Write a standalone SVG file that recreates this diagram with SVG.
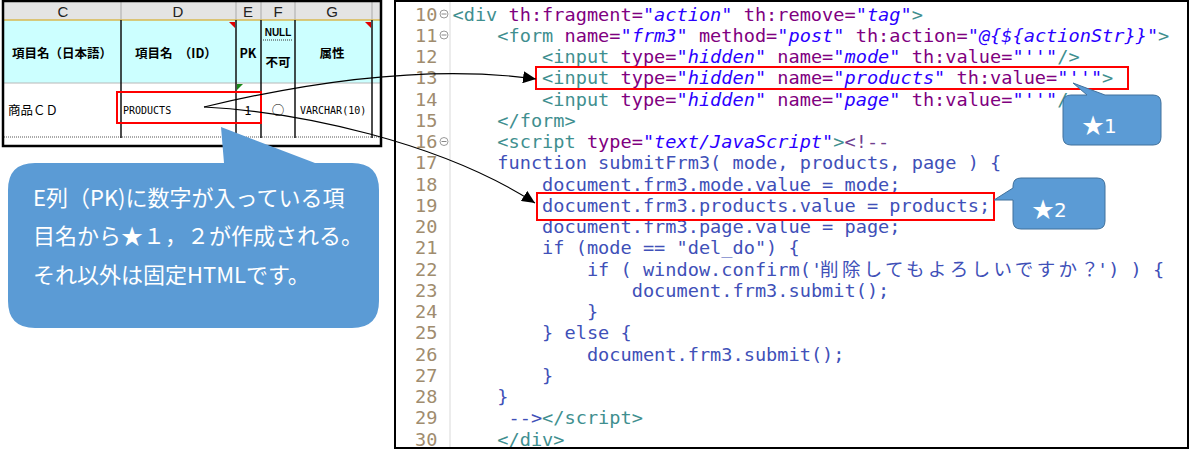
<svg xmlns="http://www.w3.org/2000/svg" width="1191" height="450" viewBox="0 0 1191 450">
<defs>
<style>
.hdr{font-family:"Liberation Sans",Arial,sans-serif;font-size:15px;fill:#222;text-anchor:middle}
.jb{font-family:"Noto Sans CJK JP",sans-serif;font-size:12.5px;font-weight:bold;fill:#000}
.jn{font-family:"Noto Sans CJK JP",sans-serif;font-size:12.5px;fill:#000}
.sm{font-family:"DejaVu Sans Mono",monospace;font-size:10px;fill:#000}
.code{font-family:"DejaVu Sans Mono","Noto Sans CJK JP",monospace;font-size:18px}
.ln{fill:#a08c6e}
.t{fill:#3f8f8f}
.a{fill:#7f007f}
.v{fill:#2a00ff;font-style:italic}
.j{fill:#4050b8}
.c{fill:#6f3f8f}
.col{stroke:#111;stroke-width:1.5}
.hl{fill:none;stroke:#ff0000;stroke-width:2}
.callout{fill:#5b9bd5}
.ctext{font-family:"Noto Sans CJK JP",sans-serif;font-size:22px;fill:#fff}
.fold{fill:#fff;stroke:#999;stroke-width:1}
.conn{fill:none;stroke:#000;stroke-width:1.2}
</style>
<marker id="ah" markerUnits="userSpaceOnUse" markerWidth="13" markerHeight="12" refX="13" refY="6" orient="auto">
<path d="M0,0 L13,6 L0,12 Z" fill="#000"/>
</marker>
</defs>
<rect width="1191" height="450" fill="#fff"/>

<g id="spreadsheet">
<rect x="3" y="1" width="378" height="145" fill="#fff"/>
<rect x="4" y="2" width="376" height="18" fill="#e4e4e4"/>
<g stroke="#aaa" stroke-width="1">
<line x1="121" y1="2" x2="121" y2="20"/><line x1="236" y1="2" x2="236" y2="20"/><line x1="261" y1="2" x2="261" y2="20"/><line x1="295" y1="2" x2="295" y2="20"/><line x1="372" y1="2" x2="372" y2="20"/>
</g>
<text class="hdr" x="63" y="17">C</text><text class="hdr" x="178" y="17">D</text><text class="hdr" x="248" y="17">E</text><text class="hdr" x="278" y="17">F</text><text class="hdr" x="332" y="17">G</text>
<rect x="4" y="20" width="376" height="63" fill="#ccffff"/>
<line x1="4" y1="20" x2="380" y2="20" stroke="#d8b850" stroke-width="1.5"/>
<line x1="4" y1="83" x2="380" y2="83" stroke="#b8b8b8" stroke-width="1"/>
<line x1="4" y1="137" x2="380" y2="137" stroke="#555" stroke-width="1" stroke-dasharray="1,1"/>
<g class="col">
<line x1="121" y1="20" x2="121" y2="138"/><line x1="236" y1="20" x2="236" y2="138"/><line x1="261" y1="20" x2="261" y2="138"/><line x1="295" y1="20" x2="295" y2="138"/><line x1="372" y1="20" x2="372" y2="138"/>
</g>
<polygon points="229,22 235,22 235,28" fill="#e00000"/>
<polygon points="365,22 371,22 371,28" fill="#e00000"/>
<polygon points="237,84 243,84 237,90" fill="#1a8a1a"/>
<text class="jb" x="62" y="58" text-anchor="middle">項目名（日本語）</text>
<text class="jb" x="135" y="58">項目名　（ID）</text>
<text class="jb" x="248" y="58" text-anchor="middle">PK</text>
<text x="278" y="36" text-anchor="middle" style="font-family:'Liberation Sans',Arial,sans-serif;font-size:10px;font-weight:bold">NULL</text>
<line x1="263" y1="40" x2="293" y2="40" stroke="#333" stroke-width="1" stroke-dasharray="1,1"/>
<text class="jb" x="278" y="67" text-anchor="middle">不可</text>
<text class="jb" x="332" y="58" text-anchor="middle">属性</text>
<text class="jn" x="8" y="115">商品ＣＤ</text>
<text class="sm" x="123" y="114">PRODUCTS</text>
<text class="jn" x="248" y="115" text-anchor="middle">1</text>
<text class="jn" x="278" y="115" text-anchor="middle">○</text>
<text class="sm" x="300" y="114">VARCHAR(10)</text>
<rect x="3" y="1" width="378" height="145" fill="none" stroke="#000" stroke-width="2.5"/>
</g>

<g id="code-panel">
<rect x="395" y="1" width="793" height="447" fill="#fff"/>
<line x1="450" y1="2" x2="450" y2="447" stroke="#e6e6e6" stroke-width="1.5"/>
<g class="code ln">
<text x="415" y="20.7" textLength="22.4" lengthAdjust="spacingAndGlyphs">10</text>
<text x="415" y="41.95" textLength="22.4" lengthAdjust="spacingAndGlyphs">11</text>
<text x="415" y="63.2" textLength="22.4" lengthAdjust="spacingAndGlyphs">12</text>
<text x="415" y="84.45" textLength="22.4" lengthAdjust="spacingAndGlyphs">13</text>
<text x="415" y="105.7" textLength="22.4" lengthAdjust="spacingAndGlyphs">14</text>
<text x="415" y="126.95" textLength="22.4" lengthAdjust="spacingAndGlyphs">15</text>
<text x="415" y="148.2" textLength="22.4" lengthAdjust="spacingAndGlyphs">16</text>
<text x="415" y="169.45" textLength="22.4" lengthAdjust="spacingAndGlyphs">17</text>
<text x="415" y="190.7" textLength="22.4" lengthAdjust="spacingAndGlyphs">18</text>
<text x="415" y="211.95" textLength="22.4" lengthAdjust="spacingAndGlyphs">19</text>
<text x="415" y="233.2" textLength="22.4" lengthAdjust="spacingAndGlyphs">20</text>
<text x="415" y="254.45" textLength="22.4" lengthAdjust="spacingAndGlyphs">21</text>
<text x="415" y="275.7" textLength="22.4" lengthAdjust="spacingAndGlyphs">22</text>
<text x="415" y="296.95" textLength="22.4" lengthAdjust="spacingAndGlyphs">23</text>
<text x="415" y="318.2" textLength="22.4" lengthAdjust="spacingAndGlyphs">24</text>
<text x="415" y="339.45" textLength="22.4" lengthAdjust="spacingAndGlyphs">25</text>
<text x="415" y="360.7" textLength="22.4" lengthAdjust="spacingAndGlyphs">26</text>
<text x="415" y="381.95" textLength="22.4" lengthAdjust="spacingAndGlyphs">27</text>
<text x="415" y="403.2" textLength="22.4" lengthAdjust="spacingAndGlyphs">28</text>
<text x="415" y="424.45" textLength="22.4" lengthAdjust="spacingAndGlyphs">29</text>
<text x="415" y="445.7" textLength="22.4" lengthAdjust="spacingAndGlyphs">30</text>
</g>
<g>
<circle class="fold" cx="444" cy="14" r="4"/><line x1="441.5" y1="14" x2="446.5" y2="14" stroke="#888"/>
<circle class="fold" cx="444" cy="35" r="4"/><line x1="441.5" y1="35" x2="446.5" y2="35" stroke="#888"/>
<circle class="fold" cx="444" cy="141.5" r="4"/><line x1="441.5" y1="141.5" x2="446.5" y2="141.5" stroke="#888"/>
</g>
<g class="code">
<text x="452.5" y="20.7" textLength="470.4" lengthAdjust="spacingAndGlyphs"><tspan class="t">&lt;div</tspan><tspan class="a"> th:fragment=</tspan><tspan class="v">"action"</tspan><tspan class="a"> th:remove=</tspan><tspan class="v">"tag"</tspan><tspan class="t">&gt;</tspan></text>
<text x="497.3" y="41.95" textLength="672" lengthAdjust="spacingAndGlyphs"><tspan class="t">&lt;form</tspan><tspan class="a"> name=</tspan><tspan class="v">"frm3"</tspan><tspan class="a"> method=</tspan><tspan class="v">"post"</tspan><tspan class="a"> th:action=</tspan><tspan class="v">"@{${actionStr}}"</tspan><tspan class="t">&gt;</tspan></text>
<text x="542.1" y="63.2" textLength="537.6" lengthAdjust="spacingAndGlyphs"><tspan class="t">&lt;input</tspan><tspan class="a"> type=</tspan><tspan class="v">"hidden"</tspan><tspan class="a"> name=</tspan><tspan class="v">"mode"</tspan><tspan class="a"> th:value=</tspan><tspan class="v">"''"</tspan><tspan class="t">/&gt;</tspan></text>
<text x="542.1" y="84.45" textLength="571.2" lengthAdjust="spacingAndGlyphs"><tspan class="t">&lt;input</tspan><tspan class="a"> type=</tspan><tspan class="v">"hidden"</tspan><tspan class="a"> name=</tspan><tspan class="v">"products"</tspan><tspan class="a"> th:value=</tspan><tspan class="v">"''"</tspan><tspan class="t">&gt;</tspan></text>
<text x="542.1" y="105.7" textLength="537.6" lengthAdjust="spacingAndGlyphs"><tspan class="t">&lt;input</tspan><tspan class="a"> type=</tspan><tspan class="v">"hidden"</tspan><tspan class="a"> name=</tspan><tspan class="v">"page"</tspan><tspan class="a"> th:value=</tspan><tspan class="v">"''"</tspan><tspan class="t">/&gt;</tspan></text>
<text class="t" x="497.3" y="126.95" textLength="78.4" lengthAdjust="spacingAndGlyphs">&lt;/form&gt;</text>
<text x="497.3" y="148.2" textLength="392" lengthAdjust="spacingAndGlyphs"><tspan class="t">&lt;script</tspan><tspan class="a"> type=</tspan><tspan class="v">"text/JavaScript"</tspan><tspan class="t">&gt;</tspan><tspan class="c">&lt;!--</tspan></text>
<text class="j" x="497.3" y="169.45" textLength="504" lengthAdjust="spacingAndGlyphs">function submitFrm3( mode, products, page ) {</text>
<text class="j" x="542.1" y="190.7" textLength="358.4" lengthAdjust="spacingAndGlyphs">document.frm3.mode.value = mode;</text>
<text class="j" x="542.1" y="211.95" textLength="448" lengthAdjust="spacingAndGlyphs">document.frm3.products.value = products;</text>
<text class="j" x="542.1" y="233.2" textLength="358.4" lengthAdjust="spacingAndGlyphs">document.frm3.page.value = page;</text>
<text class="j" x="542.1" y="254.45" textLength="257.6" lengthAdjust="spacingAndGlyphs">if (mode == "del_do") {</text>
<text class="j" x="586.9" y="275.7" textLength="235.2" lengthAdjust="spacingAndGlyphs">if ( window.confirm('</text>
<text class="j" x="820" y="275.7" textLength="279" lengthAdjust="spacing" style="font-size:18.5px">削除してもよろしいですか？</text>
<text class="j" x="1097" y="275.7" textLength="67.2" lengthAdjust="spacingAndGlyphs">') ) {</text>
<text class="j" x="631.7" y="296.95" textLength="257.6" lengthAdjust="spacingAndGlyphs">document.frm3.submit();</text>
<text class="j" x="586.9" y="318.2" textLength="11.2" lengthAdjust="spacingAndGlyphs">}</text>
<text class="j" x="542.1" y="339.45" textLength="89.6" lengthAdjust="spacingAndGlyphs">} else {</text>
<text class="j" x="586.9" y="360.7" textLength="257.6" lengthAdjust="spacingAndGlyphs">document.frm3.submit();</text>
<text class="j" x="542.1" y="381.95" textLength="11.2" lengthAdjust="spacingAndGlyphs">}</text>
<text class="j" x="497.3" y="403.2" textLength="11.2" lengthAdjust="spacingAndGlyphs">}</text>
<text x="508.5" y="424.45" textLength="134.4" lengthAdjust="spacingAndGlyphs"><tspan class="j">--&gt;</tspan><tspan class="t">&lt;/script&gt;</tspan></text>
<text class="t" x="497.3" y="445.7" textLength="67.2" lengthAdjust="spacingAndGlyphs">&lt;/div&gt;</text>
</g>
<rect x="395" y="1" width="793" height="447" fill="none" stroke="#000" stroke-width="2"/>
</g>

<g id="highlights">
<rect id="hl-products-cell" class="hl" x="117" y="92" width="144" height="31"/>
<rect id="hl-line13" class="hl" x="536" y="67" width="592" height="22"/>
<rect id="hl-line19" class="hl" x="537" y="193" width="457" height="27"/>
</g>

<g id="callout-main">
<path class="callout" d="M35,163 H224 L221,127 L315,163 H352 Q379,163 379,190 V301 Q379,328 352,328 H35 Q8,328 8,301 V190 Q8,163 35,163 Z"/>
<text class="ctext" x="33" y="206">E列（PK)に数字が入っている項</text>
<text class="ctext" x="33" y="244">目名から★１，２が作成される。</text>
<text class="ctext" x="33" y="283">それ以外は固定HTMLです。</text>
</g>

<g id="callout-star1">
<path class="callout" stroke="#41719c" stroke-width="1" d="M1071,95 H1087 L1073,83 L1105,95 H1153 Q1161,95 1161,103 V137 Q1161,145 1153,145 H1071 Q1063,145 1063,137 V103 Q1063,95 1071,95 Z"/>
<text class="ctext" x="1082" y="133">★<tspan style="font-family:'DejaVu Sans',sans-serif;font-size:20px">1</tspan></text>
</g>

<g id="callout-star2">
<path class="callout" stroke="#41719c" stroke-width="1" d="M1028,178 H1097 Q1105,178 1105,186 V221 Q1105,229 1097,229 H1021 Q1013,229 1013,221 V200 L994,200 L1013,188 V186 Q1013,178 1021,178 Z"/>
<text class="ctext" x="1032" y="217">★<tspan style="font-family:'DejaVu Sans',sans-serif;font-size:20px">2</tspan></text>
</g>

<g id="connectors">
<path class="conn" d="M204,107 Q400,60 536,79" marker-end="url(#ah)"/>
<path class="conn" d="M204,107 C300,112 440,142 535,203" marker-end="url(#ah)"/>
</g>
</svg>
